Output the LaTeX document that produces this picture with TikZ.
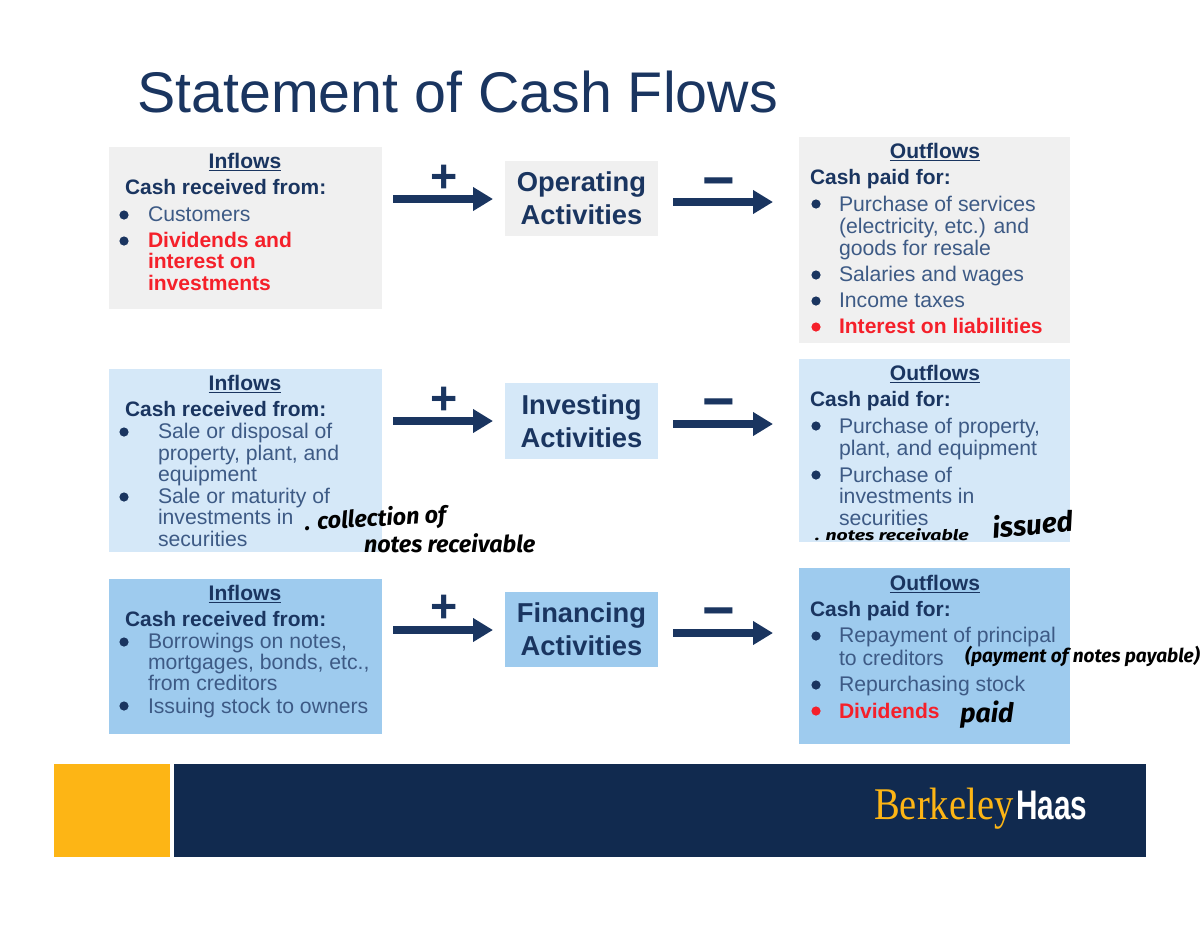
\documentclass[tikz,border=0pt]{standalone}
\usepackage{fontspec}
\setmainfont{Liberation Sans}
\newfontfamily\serifbrand{Liberation Serif}
\newfontfamily\handfont{Fira Sans}
\usetikzlibrary{arrows.meta}
\definecolor{navy}{HTML}{112A4F}
\definecolor{titleblue}{HTML}{1A3560}
\definecolor{bodyblue}{HTML}{3D5A85}
\definecolor{redtext}{HTML}{F5202A}
\definecolor{greybox}{HTML}{F0F0F0}
\definecolor{lightblue}{HTML}{D5E8F8}
\definecolor{midblue}{HTML}{9ECBEE}
\definecolor{gold}{HTML}{FDB515}
\tikzset{
 line/.style={inner sep=0pt,outer sep=0pt,anchor=base west,font=\fontsize{15.9}{18}\selectfont,text=bodyblue},
 head/.style={line,anchor=base,font=\fontsize{15.8}{18}\selectfont\bfseries,text=titleblue},
 sub/.style={line,font=\fontsize{15.7}{18}\selectfont\bfseries,text=titleblue},
 redline/.style={line,font=\fontsize{15.8}{18}\selectfont\bfseries,text=redtext},
 dot/.style={circle,fill=titleblue,inner sep=0pt,minimum size=6.9pt},
 reddot/.style={dot,fill=redtext},
 panel/.style={inner sep=0pt,outer sep=0pt,draw=none,anchor=north west},
 activity/.style={panel,anchor=center,align=center,text=titleblue,font=\fontsize{20.5}{24.5}\selectfont\bfseries},
 flow/.style={line width=6.6pt,draw=titleblue,-{Triangle[length=15pt,width=17pt]}},
 sign/.style={inner sep=0pt,outer sep=0pt,text=titleblue,font=\fontsize{35}{35}\selectfont\bfseries},
 hand/.style={inner sep=0pt,outer sep=0pt,anchor=base west,text=black,font=\handfont\fontsize{17.5}{18}\selectfont\bfseries\itshape},
}
\newcommand{\tl}[5]{\node[#4] (#1) at (#2,#3) {#5};}
\newcommand{\bx}[7]{\node[panel,fill=#2,minimum width=#5*0.75pt-#3*0.75pt,minimum height=#6*0.75pt-#4*0.75pt] (#1) at (#3,#4) {#7};}
\newcommand{\flowpair}[4]{%
 \coordinate (#1s) at (#2,#3); \coordinate (#1e) at (#2+#4,#3);
 \draw[flow] (#1s) -- (#1e);}
\begin{document}
\begin{tikzpicture}[x=0.75pt,y=-0.75pt]
\useasboundingbox (0,0) rectangle (1200,929);
\node[inner sep=0pt,anchor=base west,text=titleblue,font=\fontsize{43}{46}\selectfont] (title) at (137,112) {Statement of Cash Flows};

% panels
\bx{inA}{greybox}{109}{147}{382}{309}{}
\bx{outA}{greybox}{799}{137}{1070}{343}{}
\bx{inB}{lightblue}{109}{369}{382}{552}{}
\bx{outB}{lightblue}{799}{359}{1070}{542}{}
\bx{inC}{midblue}{109}{579}{382}{734}{}
\bx{outC}{midblue}{799}{568}{1070}{744}{}
\node[activity,fill=greybox,minimum width=114.75pt,minimum height=56.25pt] (opA) at (581.5,198.5) {Operating\\Activities};
\node[activity,fill=lightblue,minimum width=114.75pt,minimum height=57pt] (opB) at (581.5,421) {Investing\\Activities};
\node[activity,fill=midblue,minimum width=114.75pt,minimum height=56.25pt] (opC) at (581.5,629.5) {Financing\\Activities};

% arrows
\flowpair{fa}{393}{199}{100}
\flowpair{fb}{393}{421}{100}
\flowpair{fc}{393}{630}{100}
\flowpair{ga}{673}{202}{100}
\flowpair{gb}{673}{424}{100}
\flowpair{gc}{673}{633}{100}
\node[sign] (pa) at (444,179) {+};
\node[sign] (pb) at (444,401) {+};
\node[sign] (pc) at (444,609) {+};
\node[sign,font=\fontsize{42}{42}\selectfont\bfseries] (ma) at (719,189) {−};
\node[sign,font=\fontsize{42}{42}\selectfont\bfseries] (mb) at (719,410) {−};
\node[sign,font=\fontsize{42}{42}\selectfont\bfseries] (mc) at (719,619) {−};

% row 1 in
\tl{a1}{245}{168}{head}{\underline{Inflows}}
\tl{a2}{125}{194}{sub}{Cash received from:}
\node[dot] (ad1) at (124,215) {};
\tl{a3}{148}{221}{line}{Customers}
\node[dot] (ad2) at (124,241) {};
\tl{a4}{148}{247}{redline}{Dividends and}
\tl{a5}{148}{268}{redline}{interest on}
\tl{a6}{148}{290}{redline}{investments}
% row 1 out
\tl{b1}{935}{158}{head}{\underline{Outflows}}
\tl{b2}{810}{184}{sub}{Cash paid for:}
\node[dot] (bd1) at (816,204) {};
\tl{b3}{839}{211.5}{line}{Purchase of services}
\tl{b4}{839}{233.5}{line}{(electricity, etc.) and}
\tl{b5}{839}{255.5}{line}{goods for resale}
\node[dot] (bd2) at (816,275) {};
\tl{b6}{839}{281.5}{line}{Salaries and wages}
\node[dot] (bd3) at (816,301) {};
\tl{b7}{839}{307}{line}{Income taxes}
\node[reddot] (bd4) at (816,327) {};
\tl{b8}{839}{333.5}{redline}{Interest on liabilities}
% row 2 in
\tl{c1}{245}{390}{head}{\underline{Inflows}}
\tl{c2}{125}{416}{sub}{Cash received from:}
\node[dot] (cd1) at (124,432) {};
\tl{c3}{158}{438.5}{line}{Sale or disposal of}
\tl{c4}{158}{460.5}{line}{property, plant, and}
\tl{c5}{158}{481.5}{line}{equipment}
\node[dot] (cd2) at (124,497) {};
\tl{c6}{158}{503.5}{line}{Sale or maturity of}
\tl{c7}{158}{524.5}{line}{investments in}
\tl{c8}{158}{546}{line}{securities}
% row 2 out
\tl{d1}{935}{380}{head}{\underline{Outflows}}
\tl{d2}{810}{406}{sub}{Cash paid for:}
\node[dot] (dd1) at (816,426) {};
\tl{d3}{839}{433}{line}{Purchase of property,}
\tl{d4}{839}{455}{line}{plant, and equipment}
\node[dot] (dd2) at (816,475) {};
\tl{d5}{839}{482}{line}{Purchase of}
\tl{d6}{839}{503}{line}{investments in}
\tl{d7}{839}{525}{line}{securities}
% row 3 in
\tl{e1}{245}{600}{head}{\underline{Inflows}}
\tl{e2}{125}{626}{sub}{Cash received from:}
\node[dot] (ed1) at (124,642) {};
\tl{e3}{148}{648}{line}{Borrowings on notes,}
\tl{e4}{148}{669}{line}{mortgages, bonds, etc.,}
\tl{e5}{148}{690}{line}{from creditors}
\node[dot] (ed2) at (124,706) {};
\tl{e6}{148}{713}{line}{Issuing stock to owners}
% row 3 out
\tl{f1}{935}{590}{head}{\underline{Outflows}}
\tl{f2}{810}{616}{sub}{Cash paid for:}
\node[dot] (fd1) at (816,636) {};
\tl{f3}{839}{642}{line}{Repayment of principal}
\tl{f4}{839}{665}{line}{to creditors}
\node[dot] (fd2) at (816,685) {};
\tl{f5}{839}{691}{line}{Repurchasing stock}
\node[reddot] (fd3) at (816,711) {};
\tl{f6}{839}{718}{redline}{Dividends}

% handwriting
\node[hand,rotate=3] (h1) at (305,530) {. collection of};
\node[hand] (h2) at (364,552) {notes receivable};
\node[hand,font=\handfont\fontsize{11}{12}\selectfont\bfseries\itshape] (h3) at (815,540) {\scalebox{1.33}[1]{. notes receivable}};
\node[hand,font=\handfont\fontsize{21}{22}\selectfont\bfseries\itshape,rotate=5] (h4) at (993,538) {issued};
\node[hand,font=\handfont\fontsize{14.3}{14}\selectfont\bfseries\itshape] (h5) at (965,662) {(payment of notes payable)};
\node[hand,font=\handfont\fontsize{20}{22}\selectfont\bfseries\itshape] (h6) at (960,722) {paid};

% footer
\path[fill=gold] (54,764) rectangle (170,857);
\path[fill=navy] (174,764) rectangle (1146,857);
\node[inner sep=0pt,anchor=base west,text=gold,font=\serifbrand\fontsize{34}{34}\selectfont] (brand1) at (874,819) {\scalebox{0.85}[1]{Berkeley}};
\node[inner sep=0pt,anchor=base west,text=white,font=\fontsize{31}{31}\selectfont\bfseries] (brand2) at (1016,819) {\scalebox{0.72}[1]{Haas}};
\end{tikzpicture}
\end{document}
